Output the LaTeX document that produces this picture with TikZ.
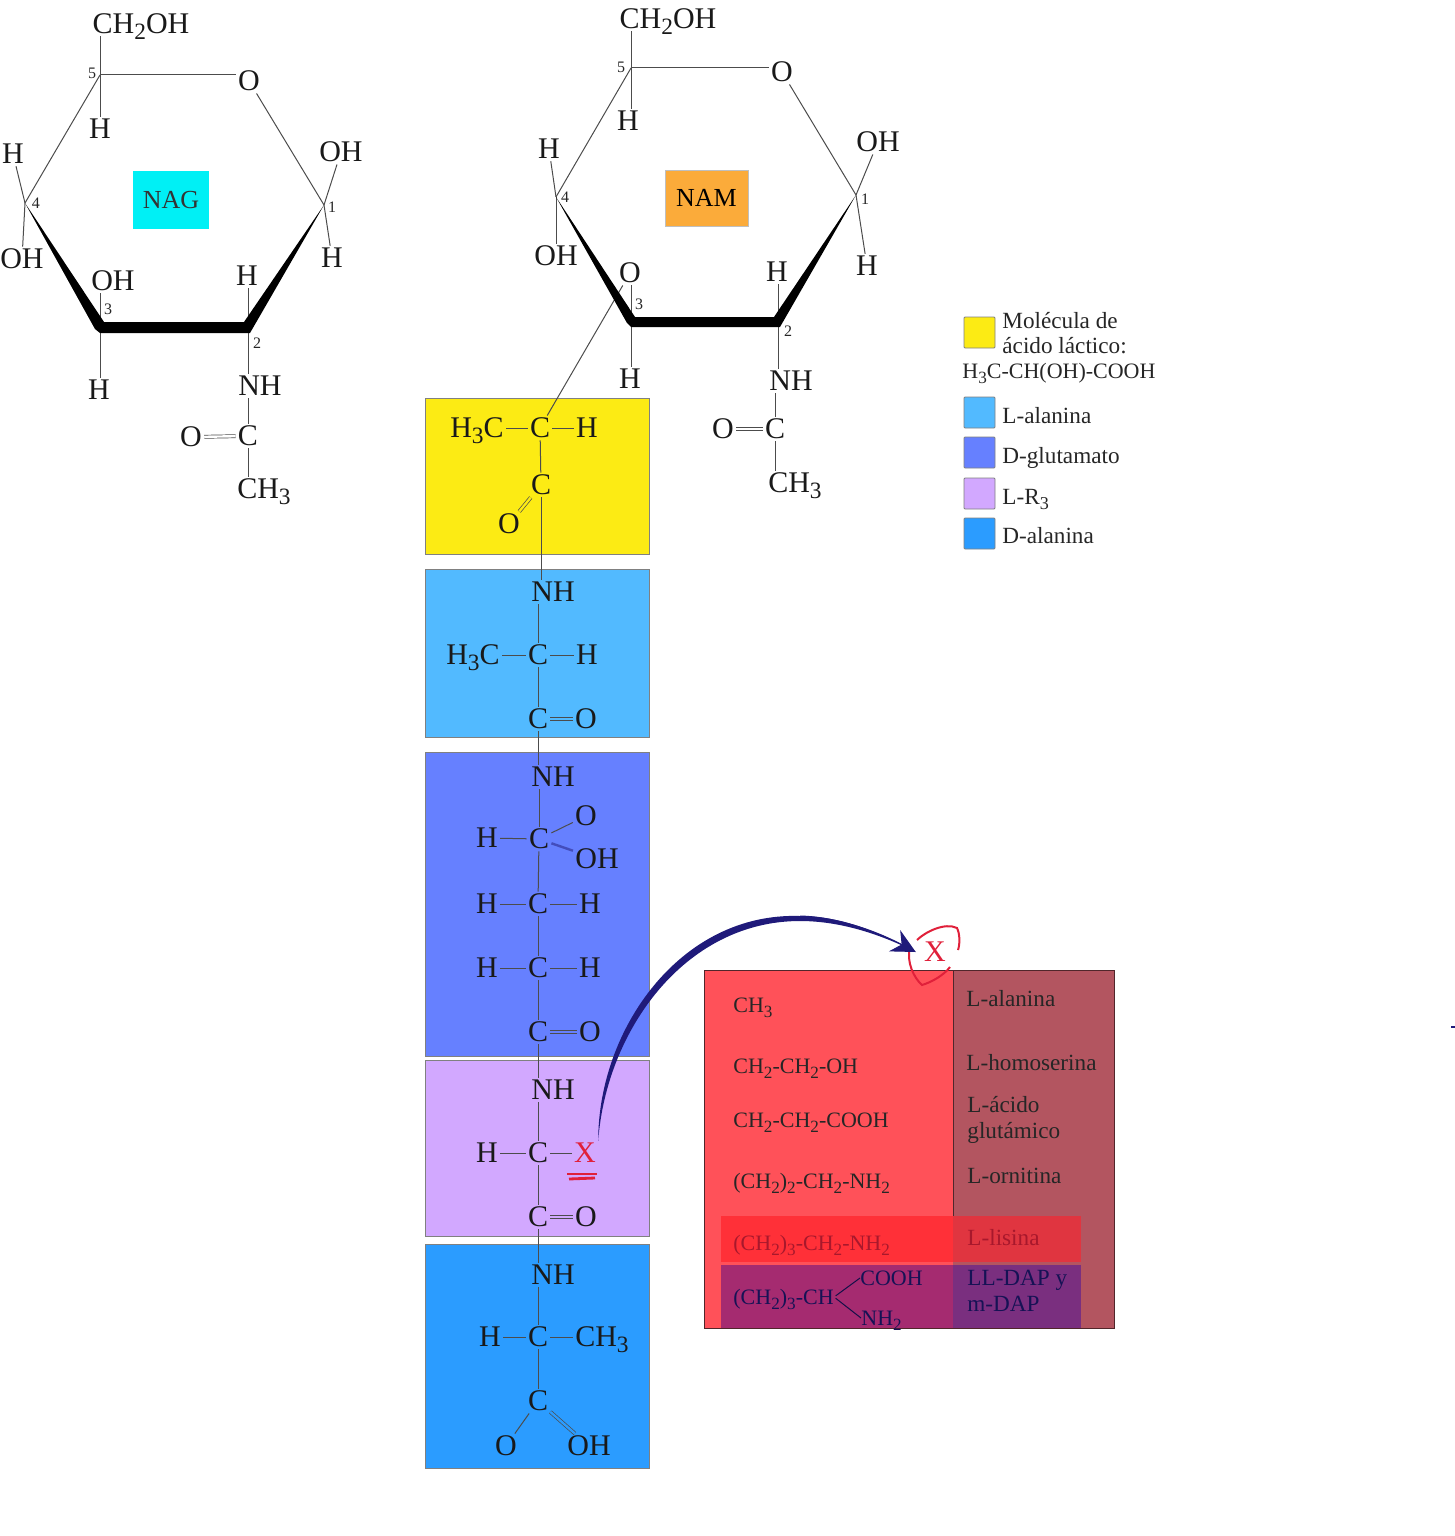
\documentclass[tikz,border=0pt]{standalone}
\usepackage{fontspec}
\setmainfont{Liberation Serif}
\usepackage{graphicx}
\usetikzlibrary{arrows.meta}
\definecolor{myYellow}{RGB}{252,235,20}
\definecolor{mySky}{RGB}{82,186,255}
\definecolor{myBlue}{RGB}{102,128,255}
\definecolor{myLilac}{RGB}{210,168,255}
\definecolor{myAzure}{RGB}{43,156,255}
\definecolor{myCyan}{RGB}{0,240,245}
\definecolor{myOrange}{RGB}{251,171,58}
\definecolor{myRedL}{RGB}{255,81,89}
\definecolor{myRedR}{RGB}{179,85,96}
\definecolor{myBandL}{RGB}{255,48,56}
\definecolor{myBandR}{RGB}{224,53,64}
\definecolor{myPurpL}{RGB}{165,43,112}
\definecolor{myPurpR}{RGB}{122,47,127}
\definecolor{myNavy}{RGB}{31,26,122}
\definecolor{myCrimson}{RGB}{224,32,58}
\newcommand{\subn}[1]{\smash{\raisebox{-0.45ex}{\scalebox{0.78}{#1}}}}
\begin{document}
\begin{tikzpicture}[
      x=0.5pt,y=-0.5pt,
      atom/.style={inner sep=1pt,yshift=-0.5pt,text=black!90,font=\fontsize{15}{18}\selectfont},
      num/.style={inner sep=0pt,text=black!85,font=\fontsize{8}{10}\selectfont},
      rowtext/.style={anchor=west,inner sep=0pt,text height=7.5pt,text depth=0pt,text=black!85,font=\fontsize{11}{13}\selectfont},
      nametext/.style={rowtext,font=\fontsize{11.6}{13}\selectfont},
      bond/.style={draw=black!70,line width=0.5pt},
      dbond/.style={draw=black!70,line width=0.35pt,double distance=1.2pt},
      panel/.style={draw=black!50,line width=0.4pt},
      ringedge/.style={fill=black}
      ]
      \useasboundingbox (0,0) rectangle (1455,1536);

      % coloured boxes of the chain
      \foreach \n/\c/\t/\b in {yl/myYellow/398/554,la/mySky/569/737,dg/myBlue/752/1056,lr/myLilac/1060/1236,da/myAzure/1244/1468}
      \draw[panel,fill=\c] (425,\t) rectangle (649,\b);

      % label boxes
      \node[fill=myCyan,minimum width=38pt,minimum height=29pt,inner sep=0pt,font=\fontsize{13}{15}\selectfont,text=black!80] (nagbox) at (171,200) {NAG};
      \node[fill=myOrange,draw=black!25,line width=0.3pt,minimum width=41.5pt,minimum height=28pt,inner sep=0pt,font=\fontsize{13}{15}\selectfont] (nambox) at (706.5,198) {NAM};

      % ring corners
      \foreach \n/\x/\y in {ag5/100/75,ag1/324/205,ag2/248/328,ag3/100/328,ag4/25/203,
                            am5/631/68,am1/856/195,am2/778/322,am3/631/322,am4/556/197}
      \coordinate (\n) at (\x,\y);

      % atoms of the rings
      \foreach \n/\x/\y/\t in {agtop/141/23/CH\subn{2}OH,agO/249/80/O,agh5/100/128/H,agh4/13/153/H,agoh4/22/258/OH,
        agoh1/341/151/OH,agh1/332/257/H,agoh3/113/280/OH,agh3/99/389/H,agh2/247/275/H,agnh/260/385/NH,agc/248/435/C,
        ago/191/436/O,agme/264/488/CH\subn{3},
        amtop/668/18/CH\subn{2}OH,amO/782/71/O,amh5/628/120/H,amh4/549/148/H,amoh4/556/255/OH,
        amoh1/878/141/OH,amh1/867/265/H,amo3/630/272/O,amh3/630/378/H,amh2/777/271/H,amnh/791/380/NH,amc/775/428/C,
        amo/723/428/O,amme/795/482/CH\subn{3}}
      \node[atom] (\n) at (\x,\y) {\t};

      % atoms of the chain
      \foreach \n/\x/\y/\t in {ylme/477/427/H\subn{3}C,yla/540/427/C,ylh/587/427/H,ylb/541/484/C,ylo/509/523/O,
        lanh/553/591/NH,lame/473/654/H\subn{3}C,laa/538/654/C,lah/587/654/H,lab/538/718/C,lao/586/718/O,
        dgnh/553/776/NH,dgh/487/837/H,dga/539/838/C,dgo/586/815/O,dgoh/597/858/OH,
        dgh2/487/903/H,dgb/538/903/C,dgi2/590/903/H,dgh3/487/967/H,dgc/538/967/C,dgi3/590/967/H,
        dgd/538/1031/C,dgp/590/1031/O,
        lrnh/553/1089/NH,lrh/487/1152/H,lra/538/1152/C,lrb/538/1216/C,lro/586/1216/O,
        danh/553/1274/NH,dah/490/1336/H,daa/538/1336/C,dame/602/1336/CH\subn{3},dab/538/1400/C,dao/506/1445/O,daoh/589/1445/OH}
      \node[atom] (\n) at (\x,\y) {\t};
      \node[atom,text=myCrimson] (xchain) at (585,1152) {X};

      % thin bonds
      \foreach \i/\j in {agO/ag1,ag5/ag4,ag4/agh4,ag4/agoh4,ag1/agoh1,ag1/agh1,
        amO/am1,am5/am4,am4/amh4,am4/amoh4,am1/amoh1,am1/amh1,
        amo3/yla,ylme/yla,yla/ylh,yla/ylb,lame/laa,laa/lah,laa/lab,
        dgh/dga,dga/dgo,dga/dgb,dgh2/dgb,dgb/dgi2,dgb/dgc,dgh3/dgc,dgc/dgi3,dgc/dgd,
        lrh/lra,lra/xchain,lra/lrb,dah/daa,daa/dame,daa/dab,dab/dao}
      \draw[bond] (\i) -- (\j);
      \draw[bond,line width=1.2pt,draw=myNavy!50!myBlue] (dga) -- (dgoh);

      % top of the rings
      \foreach \i/\j in {ag5/agO,am5/amO}
      \draw[bond] (\i) -- (\i -| \j.west);

      % bonds that meet a label straight above or below
      \foreach \i/\j in {ag5/agtop,am5/amtop,ag3/agoh3,ag2/agh2,am3/amo3,am2/amh2,agc/agnh,amc/amnh,
        laa/lanh,dga/dgnh,lra/lrnh,daa/danh}
      \draw[bond] (\i) -- (\i |- \j.south);
      \foreach \i/\j in {ag5/agh5,am5/amh5,ag3/agh3,am3/amh3,ag2/agnh,am2/amnh,agc/agme,amc/amme,
        ylb/lanh,lab/dgnh,dgd/lrnh,lrb/danh}
      \draw[bond] (\i) -- (\i |- \j.north);

      % double bonds
      \foreach \i/\j/\c in {ago/agc/white,amo/amc/white,ylb/ylo/myYellow,lab/lao/mySky,dgd/dgp/myBlue,lrb/lro/myLilac,dab/daoh/myAzure}
      \draw[dbond,double=\c] (\i) -- (\j);

      % heavy front of the rings
      \fill[ringedge] (ag4) -- ([shift={(4,-6)}]ag3) -- ([shift={(-4,-6)}]ag2) -- (ag1) -- ([shift={(2,5)}]ag2) -- ([shift={(0,5)}]ag3) -- ([shift={(-5,1)}]ag3) -- cycle;
      \fill[ringedge] (am4) -- ([shift={(4,-5)}]am3) -- ([shift={(-4,-5)}]am2) -- (am1) -- ([shift={(2,5)}]am2) -- ([shift={(0,5)}]am3) -- ([shift={(-4,1)}]am3) -- cycle;

      % carbon numbers
      \foreach \n/\x/\y/\t in {ag5n/92/73/5,ag4n/36/203/4,ag1n/332/207/1,ag3n/108/309/3,ag2n/257/343/2,
        am5n/621/67/5,am4n/565/197/4,am1n/865/199/1,am3n/639/304/3,am2n/788/331/2}
      \node[num] (\n) at (\x,\y) {\t};

      % legend
      \foreach \n/\c/\t in {kyl/myYellow/317,kla/mySky/397,kdg/myBlue/437,klr/myLilac/478,kda/myAzure/518}
      \draw[panel,fill=\c,rounded corners=0.5pt] (964,\t) rectangle +(31,31);
      \node[rowtext] (lg3) at (962,371) {H\subn{3}C-CH(OH)-COOH};
      \foreach \n/\x/\y/\t in {lg1/1002/321/Molécula de,lg2/1002/346/ácido láctico:,
        lg4/1002/416/L-alanina,lg5/1002/456/D-glutamato,lg6/1002/497/L-R\subn{3},lg7/1002/536/D-alanina}
      \node[nametext] (\n) at (\x,\y) {\t};

      % table of side chains
      \fill[myRedL] (704,970) rectangle (953,1328);
      \fill[myRedR] (953,970) rectangle (1114,1328);
      \fill[myBandL] (721,1216) rectangle (953,1262);
      \fill[myBandR] (953,1216) rectangle (1081,1262);
      \fill[myPurpL] (721,1265) rectangle (953,1328);
      \fill[myPurpR] (953,1265) rectangle (1081,1328);
      \draw[panel,draw=black!55!myRedR] (704,970) rectangle (1114,1328);
      \draw[panel,draw=black!55!myRedR] (953,970) -- (953,1216);

      \foreach \n/\x/\y/\t in {t1/733/1005/CH\subn{3},t2/733/1066/CH\subn{2}-CH\subn{2}-OH,t3/733/1120/CH\subn{2}-CH\subn{2}-COOH,
        t4/733/1181/(CH\subn{2})\subn{2}-CH\subn{2}-NH\subn{2}}
      \node[rowtext] (\n) at (\x,\y) {\t};
      \foreach \n/\x/\y/\t in {u1/966/999/L-alanina,u2/966/1063/L-homoserina,u3/967/1105/L-ácido,u4/967/1131/glutámico,u5/967/1176/L-ornitina}
      \node[nametext] (\n) at (\x,\y) {\t};
      \node[rowtext,text=myCrimson!75!black] (t5) at (733,1243) {(CH\subn{2})\subn{3}-CH\subn{2}-NH\subn{2}};
      \node[nametext,text=myCrimson!75!black] (u6) at (967,1238) {L-lisina};
      \foreach \n/\x/\y/\t in {t6/733/1297/(CH\subn{2})\subn{3}-CH,t7/860/1278/COOH,t8/861/1318/NH\subn{2}}
      \node[rowtext,text=myNavy!70!black] (\n) at (\x,\y) {\t};
      \foreach \n/\x/\y/\t in {u7/967/1278/LL-DAP y,u8/967/1304/m-DAP}
      \node[nametext,text=myNavy!70!black] (\n) at (\x,\y) {\t};
      \foreach \i in {t7,t8}
      \draw[bond,draw=myNavy!60!black,shorten <=1pt] (t6.east) -- (\i.west);

      % the X of the table with its red loop
      \node[atom,inner sep=4pt,text=myCrimson] (xtable) at (935,951) {X};
      \coordinate (loopa) at (910,947);
      \coordinate (loopb) at (950,967);
      \coordinate (loopc) at (917,940);
      \coordinate (loopd) at (958,950);
      \draw[myCrimson,line width=1pt] (loopa) .. controls (906,962) and (914,978) .. (922,985) .. controls (932,982) and (944,975) .. (loopb);
      \draw[myCrimson,line width=1pt] (loopc) .. controls (925,932) and (945,922) .. (957,928) .. controls (960,934) and (960,944) .. (loopd);

      % arrow from the chain to the table
      \coordinate (arrowtop) at (800,916);
      \coordinate (arrowlow) at (800,921);
      \fill[myNavy] (xchain.north east) .. controls (598,1030) and (680,912) .. (arrowtop) .. controls (840,916) and (880,932) .. (xtable.west)
         .. controls (880,934) and (840,921) .. (arrowlow) .. controls (684,921) and (606,1032) .. (xchain.north east) -- cycle;
      \draw[myNavy,line width=0.5pt,-{Stealth[length=12pt,width=12pt,inset=4pt]}] (arrowtop) .. controls (840,917) and (880,933) .. (xtable.west);

      % red marks under the X of the chain
      \coordinate (marka) at (567,1174);
      \coordinate (markb) at (597,1174);
      \coordinate (markc) at (569,1179);
      \coordinate (markd) at (595,1178);
      \draw[myCrimson,line width=1.4pt] (marka) -- (markb);
      \draw[myCrimson,line width=1.4pt] (markc) -- (markd);

      % small stray mark at the right edge
      \fill[myNavy] (1451,1026) rectangle (1455,1028);
    \end{tikzpicture}
\end{document}
